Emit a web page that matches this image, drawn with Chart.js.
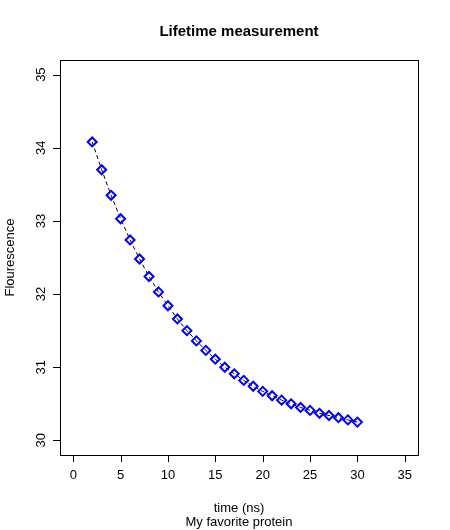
<!DOCTYPE html>
<html><head><meta charset="utf-8">
<script src="https://cdn.jsdelivr.net/npm/chart.js@4"></script>
<style>html,body{margin:0;background:#fff}#w{width:450px;height:530px}</style>
</head><body><div id="w"><canvas id="c"></canvas></div>
<script>
const times = [2,3,4,5,6,7,8,9,10,11,12,13,14,15,16,17,18,19,20,21,22,23,24,25,26,27,28,29,30];
const fluorescence = [34.08,33.70,33.35,33.03,32.74,32.48,32.24,32.03,31.84,31.66,31.50,31.36,31.23,31.11,31.00,30.91,30.82,30.74,30.67,30.61,30.55,30.50,30.45,30.41,30.37,30.34,30.31,30.28,30.25];
const xTicks = [0,5,10,15,20,25,30,35];
const yTicks = [30,31,32,33,34,35];
const title = "Lifetime measurement", xTitle = "time (ns)", subTitle = "My favorite protein", yTitle = "Flourescence";

const rAxes = {id:'rAxes', afterDraw(ch){
  const c=ch.ctx, a=ch.chartArea, xs=ch.scales.x, ys=ch.scales.y;
  c.save(); c.strokeStyle='#000'; c.fillStyle='#000'; c.lineWidth=1;
  c.strokeRect(a.left+0.5,a.top+0.5,a.right-a.left,a.bottom-a.top);
  c.font='13px "Liberation Sans", Arial, sans-serif';
  // x axis
  c.beginPath();
  c.moveTo(xs.getPixelForValue(xTicks[0]),a.bottom+0.5);c.lineTo(xs.getPixelForValue(xTicks[xTicks.length-1]),a.bottom+0.5);
  xTicks.forEach(t=>{const p=Math.round(xs.getPixelForValue(t))+0.5;c.moveTo(p,a.bottom);c.lineTo(p,a.bottom+7);});
  c.stroke();
  c.textAlign='center';c.textBaseline='middle';
  xTicks.forEach(t=>c.fillText(String(t),xs.getPixelForValue(t),a.bottom+20));
  // y axis
  c.beginPath();
  c.moveTo(a.left+0.5,ys.getPixelForValue(yTicks[0]));c.lineTo(a.left+0.5,ys.getPixelForValue(yTicks[yTicks.length-1]));
  yTicks.forEach(t=>{const p=Math.round(ys.getPixelForValue(t))+0.5;c.moveTo(a.left,p);c.lineTo(a.left-7,p);});
  c.stroke();
  yTicks.forEach(t=>{c.save();c.translate(a.left-19,ys.getPixelForValue(t));c.rotate(-Math.PI/2);c.fillText(String(t),0,0);c.restore();});
  c.fillText(xTitle,(a.left+a.right)/2,a.bottom+53);
  c.fillText(subTitle,(a.left+a.right)/2,a.bottom+67);
  c.save();c.translate(10,(a.top+a.bottom)/2);c.rotate(-Math.PI/2);c.fillText(yTitle,0,0);c.restore();
  c.font='bold 15px "Liberation Sans", Arial, sans-serif';
  c.fillText(title,(a.left+a.right)/2,32);
  c.restore();
}};

new Chart(document.getElementById('c'),{
  type:'line',
  data:{datasets:[{data:times.map((t,i)=>({x:t,y:fluorescence[i]})),
    borderColor:'#000',borderWidth:1,borderDash:[4,3],
    pointStyle:'rectRot',pointRadius:4.5,pointBorderWidth:2,pointBorderColor:'#0000ff',pointBackgroundColor:'rgba(0,0,0,0)',
    fill:false,tension:0}]},
  options:{responsive:true,maintainAspectRatio:false,animation:false,
    layout:{padding:{left:60,right:32,top:60,bottom:75}},
    plugins:{legend:{display:false},tooltip:{enabled:false}},
    scales:{x:{type:'linear',min:-1.4,max:36.4,display:false},y:{type:'linear',min:29.8,max:35.2,display:false}}},
  plugins:[rAxes]
});
</script></body></html>
